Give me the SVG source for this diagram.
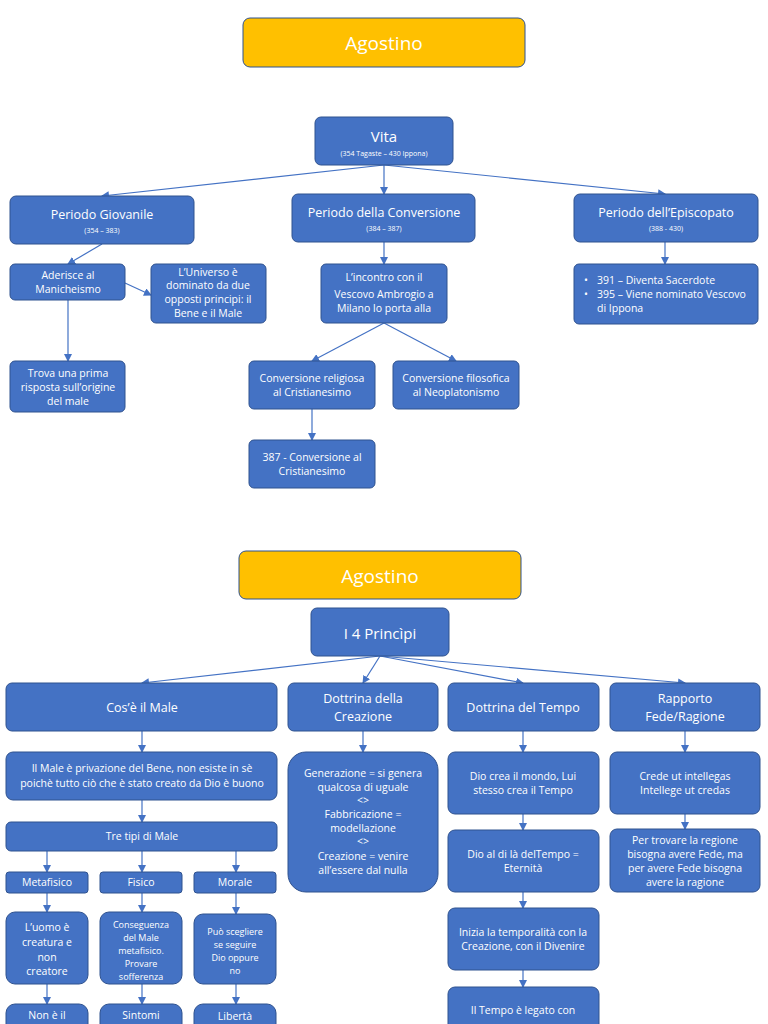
<svg xmlns="http://www.w3.org/2000/svg" width="768" height="1024" viewBox="0 0 768 1024">
<defs>
<marker id="a" markerWidth="8" markerHeight="8" refX="7" refY="4" orient="auto" markerUnits="userSpaceOnUse"><path d="M0,0 L8,4 L0,8 z" fill="#4472C4"/></marker>
<style>
.n{fill:#4472C4;stroke:#2F528F;stroke-width:1}
.y{fill:#FFC000;stroke:#2F528F;stroke-width:1}
text{font-family:"Open Sans","Liberation Sans",sans-serif;fill:#fff;text-anchor:middle}
.t{font-size:19px}
.h{font-size:12.5px}
.s{font-size:10.5px}
.x{font-size:7px}
.m{font-size:9px}
line,path.c{stroke:#4472C4;stroke-width:1.2;fill:none;marker-end:url(#a)}
</style>
</defs>
<g id="connectors">
<line x1="384" y1="165" x2="102" y2="196"/>
<line x1="384" y1="165" x2="384" y2="194"/>
<line x1="384" y1="165" x2="665" y2="194"/>
<line x1="102" y1="244" x2="68" y2="264"/>
<line x1="125" y1="283" x2="151" y2="295"/>
<line x1="68" y1="300" x2="68" y2="361"/>
<line x1="384" y1="242" x2="384" y2="264"/>
<line x1="665" y1="242" x2="665" y2="264"/>
<line x1="384" y1="323" x2="312" y2="361"/>
<line x1="384" y1="323" x2="456" y2="361"/>
<line x1="312" y1="409" x2="312" y2="440"/>
<line x1="380" y1="656" x2="142" y2="683"/>
<line x1="380" y1="656" x2="363" y2="683"/>
<line x1="380" y1="656" x2="523" y2="683"/>
<line x1="380" y1="656" x2="685" y2="683"/>
<line x1="142" y1="731" x2="142" y2="752"/>
<line x1="142" y1="800" x2="142" y2="822"/>
<line x1="47" y1="851" x2="47" y2="872"/>
<line x1="142" y1="851" x2="142" y2="872"/>
<line x1="236" y1="851" x2="236" y2="872"/>
<line x1="47" y1="893" x2="47" y2="912"/>
<line x1="142" y1="893" x2="142" y2="912"/>
<line x1="236" y1="893" x2="236" y2="914"/>
<line x1="47" y1="984" x2="47" y2="1004"/>
<line x1="142" y1="984" x2="142" y2="1004"/>
<line x1="236" y1="984" x2="236" y2="1004"/>
<line x1="363" y1="731" x2="363" y2="752"/>
<line x1="523" y1="731" x2="523" y2="752"/>
<line x1="523" y1="814" x2="523" y2="830"/>
<line x1="523" y1="892" x2="523" y2="908"/>
<line x1="523" y1="970" x2="523" y2="987"/>
<line x1="685" y1="731" x2="685" y2="752"/>
<line x1="685" y1="814" x2="685" y2="829"/>
</g>
<g id="title1"><rect class="y" x="243" y="18" width="282" height="49" rx="7"/><text class="t" x="384" y="50">Agostino</text></g>
<g id="vita"><rect class="n" x="315" y="117" width="138" height="48" rx="6"/><text class="t" x="384" y="142" style="font-size:15px">Vita</text><text class="x" x="384" y="156">(354 Tagaste – 430 Ippona)</text></g>
<g id="giovanile"><rect class="n" x="10" y="196" width="184" height="48" rx="6"/><text class="h" x="102" y="219">Periodo Giovanile</text><text class="x" x="102" y="233">(354 – 383)</text></g>
<g id="conversione"><rect class="n" x="292" y="194" width="183" height="48" rx="6"/><text class="h" x="384" y="217">Periodo della Conversione</text><text class="x" x="384" y="231">(384 – 387)</text></g>
<g id="episcopato"><rect class="n" x="574" y="194" width="184" height="48" rx="6"/><text class="h" x="666" y="217">Periodo dell’Episcopato</text><text class="x" x="666" y="231">(388 - 430)</text></g>
<g id="aderisce"><rect class="n" x="10" y="264" width="115" height="36" rx="5"/><text class="s" x="68" y="279">Aderisce al</text><text class="s" x="68" y="293">Manicheismo</text></g>
<g id="universo"><rect class="n" x="151" y="264" width="115" height="59" rx="5"/><text class="s" x="208" y="276">L’Universo è</text><text class="s" x="208" y="289">dominato da due</text><text class="s" x="208" y="303">opposti principi: il</text><text class="s" x="208" y="317">Bene e il Male</text></g>
<g id="incontro"><rect class="n" x="321" y="264" width="126" height="59" rx="5"/><text class="s" x="384" y="281">L’incontro con il</text><text class="s" x="384" y="298">Vescovo Ambrogio a</text><text class="s" x="384" y="312">Milano lo porta alla</text></g>
<g id="date"><rect class="n" x="574" y="264" width="184" height="60" rx="5"/><text class="s" x="584" y="284" style="text-anchor:start">•</text><text class="s" x="597" y="284" style="text-anchor:start">391 – Diventa Sacerdote</text><text class="s" x="584" y="298" style="text-anchor:start">•</text><text class="s" x="597" y="298" style="text-anchor:start">395 – Viene nominato Vescovo</text><text class="s" x="597" y="312" style="text-anchor:start">di Ippona</text></g>
<g id="trova"><rect class="n" x="10" y="361" width="115" height="51" rx="5"/><text class="s" x="68" y="377">Trova una prima</text><text class="s" x="68" y="391">risposta sull’origine</text><text class="s" x="68" y="405">del male</text></g>
<g id="religiosa"><rect class="n" x="249" y="361" width="126" height="48" rx="5"/><text class="s" x="312" y="382">Conversione religiosa</text><text class="s" x="312" y="396">al Cristianesimo</text></g>
<g id="filosofica"><rect class="n" x="393" y="361" width="126" height="48" rx="5"/><text class="s" x="456" y="382">Conversione filosofica</text><text class="s" x="456" y="396">al Neoplatonismo</text></g>
<g id="c387"><rect class="n" x="249" y="440" width="126" height="48" rx="5"/><text class="s" x="312" y="461">387 - Conversione al</text><text class="s" x="312" y="475">Cristianesimo</text></g>
<g id="title2"><rect class="y" x="239" y="551" width="282" height="48" rx="7"/><text class="t" x="380" y="583">Agostino</text></g>
<g id="principi"><rect class="n" x="311" y="608" width="138" height="48" rx="6"/><text class="t" x="380" y="639" style="font-size:15px">I 4 Princìpi</text></g>
<g id="male"><rect class="n" x="6" y="683" width="271" height="48" rx="6"/><text class="h" x="142" y="712">Cos’è il Male</text></g>
<g id="creazione"><rect class="n" x="288" y="683" width="150" height="48" rx="6"/><text class="h" x="363" y="703">Dottrina della</text><text class="h" x="363" y="721">Creazione</text></g>
<g id="tempo"><rect class="n" x="448" y="683" width="151" height="48" rx="6"/><text class="h" x="523" y="712">Dottrina del Tempo</text></g>
<g id="rapporto"><rect class="n" x="610" y="683" width="150" height="48" rx="6"/><text class="h" x="685" y="703">Rapporto</text><text class="h" x="685" y="721">Fede/Ragione</text></g>
<g id="privazione"><rect class="n" x="6" y="752" width="271" height="48" rx="7"/><text class="s" x="142" y="772">Il Male è privazione del Bene, non esiste in sè</text><text class="s" x="142" y="787">poichè tutto ciò che è stato creato da Dio è buono</text></g>
<g id="tretipi"><rect class="n" x="6" y="822" width="271" height="29" rx="5"/><text class="s" x="142" y="840">Tre tipi di Male</text></g>
<g id="metafisico"><rect class="n" x="6" y="872" width="82" height="21" rx="3"/><text class="s" x="47" y="886">Metafisico</text></g>
<g id="fisico"><rect class="n" x="100" y="872" width="82" height="21" rx="3"/><text class="s" x="141" y="886">Fisico</text></g>
<g id="morale"><rect class="n" x="194" y="872" width="82" height="21" rx="3"/><text class="s" x="235" y="886">Morale</text></g>
<g id="uomo"><rect class="n" x="6" y="912" width="82" height="72" rx="9"/><text class="s" x="47" y="931">L’uomo è</text><text class="s" x="47" y="946">creatura e</text><text class="s" x="47" y="961">non</text><text class="s" x="47" y="975">creatore</text></g>
<g id="conseguenza"><rect class="n" x="100" y="912" width="82" height="72" rx="9"/><text class="m" x="141" y="928">Conseguenza</text><text class="m" x="141" y="941">del Male</text><text class="m" x="141" y="954">metafisico.</text><text class="m" x="141" y="967">Provare</text><text class="m" x="141" y="980">sofferenza</text></g>
<g id="puo"><rect class="n" x="194" y="914" width="82" height="70" rx="9"/><text class="m" x="235" y="935">Può scegliere</text><text class="m" x="235" y="948">se seguire</text><text class="m" x="235" y="961">Dio oppure</text><text class="m" x="235" y="974">no</text></g>
<g id="noneil"><rect class="n" x="6" y="1004" width="82" height="40" rx="9"/><text class="s" x="47" y="1019">Non è il</text></g>
<g id="sintomi"><rect class="n" x="100" y="1004" width="82" height="40" rx="9"/><text class="s" x="141" y="1019">Sintomi</text></g>
<g id="liberta"><rect class="n" x="194" y="1004" width="82" height="40" rx="9"/><text class="s" x="235" y="1020">Libertà</text></g>
<g id="generazione"><rect class="n" x="288" y="752" width="150" height="140" rx="18"/><text class="s" x="363" y="777">Generazione = si genera</text><text class="s" x="363" y="791">qualcosa di uguale</text><text class="s" x="363" y="804">&lt;&gt;</text><text class="s" x="363" y="818">Fabbricazione =</text><text class="s" x="363" y="832">modellazione</text><text class="s" x="363" y="845">&lt;&gt;</text><text class="s" x="363" y="860">Creazione = venire</text><text class="s" x="363" y="874">all’essere dal nulla</text></g>
<g id="diocrea"><rect class="n" x="448" y="752" width="151" height="62" rx="7"/><text class="s" x="523" y="780">Dio crea il mondo, Lui</text><text class="s" x="523" y="794">stesso crea il Tempo</text></g>
<g id="aldila"><rect class="n" x="448" y="830" width="151" height="62" rx="7"/><text class="s" x="523" y="858">Dio al di là delTempo =</text><text class="s" x="523" y="872">Eternità</text></g>
<g id="inizia"><rect class="n" x="448" y="908" width="151" height="62" rx="7"/><text class="s" x="523" y="936">Inizia la temporalità con la</text><text class="s" x="523" y="950">Creazione, con il Divenire</text></g>
<g id="iltempo"><rect class="n" x="448" y="987" width="151" height="60" rx="7"/><text class="s" x="523" y="1014">Il Tempo è legato con</text></g>
<g id="crede"><rect class="n" x="610" y="752" width="150" height="62" rx="7"/><text class="s" x="685" y="780">Crede ut intellegas</text><text class="s" x="685" y="794">Intellege ut credas</text></g>
<g id="pertrovare"><rect class="n" x="610" y="829" width="150" height="63" rx="7"/><text class="s" x="685" y="844">Per trovare la regione</text><text class="s" x="685" y="858">bisogna avere Fede, ma</text><text class="s" x="685" y="872">per avere Fede bisogna</text><text class="s" x="685" y="886">avere la ragione</text></g>
</svg>
